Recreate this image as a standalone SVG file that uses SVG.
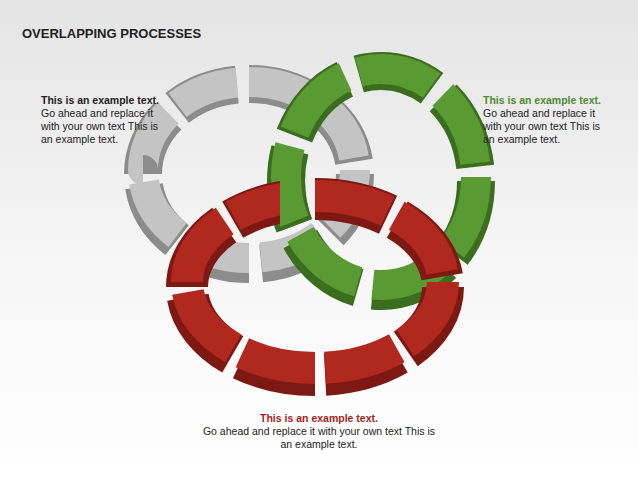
<svg xmlns="http://www.w3.org/2000/svg" width="638" height="479" viewBox="0 0 638 479">
<defs>
<linearGradient id="bg" x1="0" y1="0" x2="0" y2="1">
<stop offset="0" stop-color="#e4e4e4"/><stop offset="0.55" stop-color="#f6f6f6"/><stop offset="1" stop-color="#ffffff"/>
</linearGradient>
<clipPath id="gclip"><rect x="280" y="175" width="85" height="95"/></clipPath>
<style>
.t{font-family:"Liberation Sans",Arial,sans-serif;font-size:10.5px;fill:#222}
.b{font-weight:bold}
.ring{fill:none;stroke-linecap:butt}
</style>
</defs>
<rect width="638" height="479" fill="url(#bg)"/>
<text x="22" y="38" class="t b" style="font-size:13px">OVERLAPPING PROCESSES</text>
<g id="ring-gray">
<ellipse cx="249" cy="174" rx="106" ry="90" class="ring" stroke="#8c8c8c" stroke-width="38" pathLength="100" stroke-dasharray="10.5 2"/>
<ellipse cx="249" cy="170" rx="106" ry="88" class="ring" stroke="#c4c4c4" stroke-width="30" pathLength="100" stroke-dasharray="10.5 2"/>
</g>
<g id="ring-green">
<ellipse cx="381" cy="181" rx="95" ry="110" class="ring" stroke="#3a6e1e" stroke-width="38" pathLength="100" stroke-dasharray="12 2.3"/>
<ellipse cx="381" cy="177" rx="95" ry="108" class="ring" stroke="#5a9a32" stroke-width="30" pathLength="100" stroke-dasharray="12 2.3"/>
</g>
<g id="ring-red">
<ellipse cx="315" cy="287" rx="128" ry="88" class="ring" stroke="#7e1812" stroke-width="42" pathLength="100" stroke-dasharray="11 1.5"/>
<ellipse cx="315" cy="282" rx="128" ry="86" class="ring" stroke="#b0281e" stroke-width="32" pathLength="100" stroke-dasharray="11 1.5"/>
</g>
<g id="ring-green-over" clip-path="url(#gclip)">
<ellipse cx="381" cy="181" rx="95" ry="110" class="ring" stroke="#3a6e1e" stroke-width="38" pathLength="100" stroke-dasharray="12 2.3"/>
<ellipse cx="381" cy="177" rx="95" ry="108" class="ring" stroke="#5a9a32" stroke-width="30" pathLength="100" stroke-dasharray="12 2.3"/>
</g>
<g id="text-left">
<text x="41" y="104" class="t b">This is an example text.</text>
<text x="41" y="117" class="t">Go ahead and replace it</text>
<text x="41" y="130" class="t">with your own text This is</text>
<text x="41" y="143" class="t">an example text.</text>
</g>
<g id="text-right">
<text x="483" y="104" class="t b" style="fill:#4e8a2c">This is an example text.</text>
<text x="483" y="117" class="t">Go ahead and replace it</text>
<text x="483" y="130" class="t">with your own text This is</text>
<text x="483" y="143" class="t">an example text.</text>
</g>
<g id="text-bottom" text-anchor="middle">
<text x="319" y="422" class="t b" style="fill:#a8221c">This is an example text.</text>
<text x="319" y="435" class="t">Go ahead and replace it with your own text This is</text>
<text x="319" y="448" class="t">an example text.</text>
</g>
<g id="connectors"/>
</svg>
